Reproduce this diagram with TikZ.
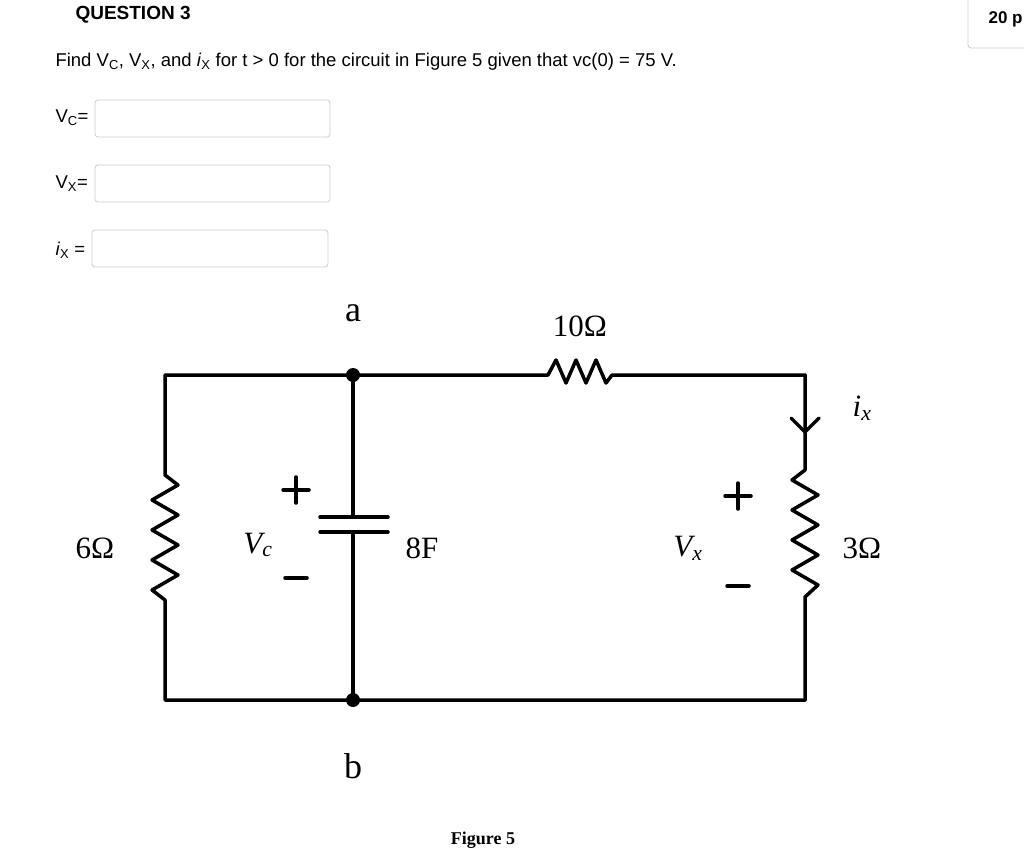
\documentclass[tikz,border=0pt]{standalone}
\usepackage{fontspec}
\setmainfont{Liberation Serif}
\newfontfamily\sansf{Liberation Sans}
\begin{document}
\begin{tikzpicture}[x=1pt,y=-1pt,
  w/.style={line width=3.5pt,line cap=round,line join=round},
  box/.style={draw=black!20,rounded corners=3pt,line width=0.8pt},
  st/.style={font=\sansf\fontsize{18.5}{20}\selectfont,anchor=west},
  lb/.style={font=\fontsize{31}{33}\selectfont}]
\useasboundingbox (0,0) rectangle (1024,867);
\node[st,font=\sansf\bfseries\fontsize{19}{21}\selectfont] (q) at (72,15) {QUESTION 3};
\draw[box] (968,-5) rectangle (1035,48);
\node[font=\sansf\bfseries\fontsize{17}{19}\selectfont,anchor=west] (p) at (985,19) {20 p};
\node[st] (f) at (52,62) {Find V\textsubscript{C}, V\textsubscript{X}, and \textit{i}\textsubscript{X} for t > 0 for the circuit in Figure 5 given that vc(0) = 75 V.};
\node[st] (l1) at (52,118) {V\textsubscript{C}=};
\draw[box] (95,100) rectangle (330,137);
\node[st] (l2) at (52,184) {V\textsubscript{X}=};
\draw[box] (95,165) rectangle (330,202);
\node[st] (l3) at (52,250) {\textit{i}\textsubscript{X} =};
\draw[box] (92,230) rectangle (328,267);
% nodes
\coordinate (tl) at (165,375); \coordinate (a) at (353,375); \coordinate (tr) at (805,375);
\coordinate (bl) at (165,700); \coordinate (b) at (353,700); \coordinate (br) at (805,700);
\draw[w] (tl) -- (548,375) -- (556,360) -- (566,383) -- (576,360) -- (586,383) -- (596,360) -- (606,383) -- (612,375) -- (tr);
\draw[w] (tl) -- (165,475) -- (178,485) -- (152,500) -- (178,515) -- (152,530) -- (178,545) -- (152,560) -- (178,575) -- (152,590) -- (165,600) -- (bl) -- (br);
\draw[w] (tr) -- (805,470) -- (792,480) -- (818,495) -- (792,510) -- (818,525) -- (792,540) -- (818,555) -- (792,570) -- (818,585) -- (805,597) -- (br);
\draw[w] (a) -- (353,517); \draw[w] (320,517) -- (388,517);
\draw[w] (320,532) -- (388,532); \draw[w] (353,532) -- (b);
\fill (a) circle (7); \fill (b) circle (7);
\draw[w] (791,418) -- (805,432) -- (819,418);
\node[lb,font=\fontsize{36}{38}\selectfont] (na) at (353,313) {a};
\node[lb,font=\fontsize{36}{38}\selectfont] (nb) at (353,766) {b};
\node[lb] (r10) at (580,326) {10Ω};
\node[lb] (r6) at (95,548) {6Ω};
\node[lb] (r3) at (862,548) {3Ω};
\node[lb] (c8) at (422,548) {8F};
\node[lb] (vc) at (258,545) {\textit{V\textsubscript{c}}};
\node[lb] (vx) at (688,548) {\textit{V\textsubscript{x}}};
\node[lb] (ix) at (862,408) {\textit{i\textsubscript{x}}};
\draw[w] (283,490) -- (309,490) (296,477) -- (296,503);
\draw[w] (725,496) -- (751,496) (738,483) -- (738,509);
\draw[w] (285,578) -- (307,578);
\draw[w] (727,586) -- (749,586);
\node[font=\bfseries\fontsize{18}{20}\selectfont] (fig) at (483,840) {Figure 5};
\end{tikzpicture}
\end{document}
